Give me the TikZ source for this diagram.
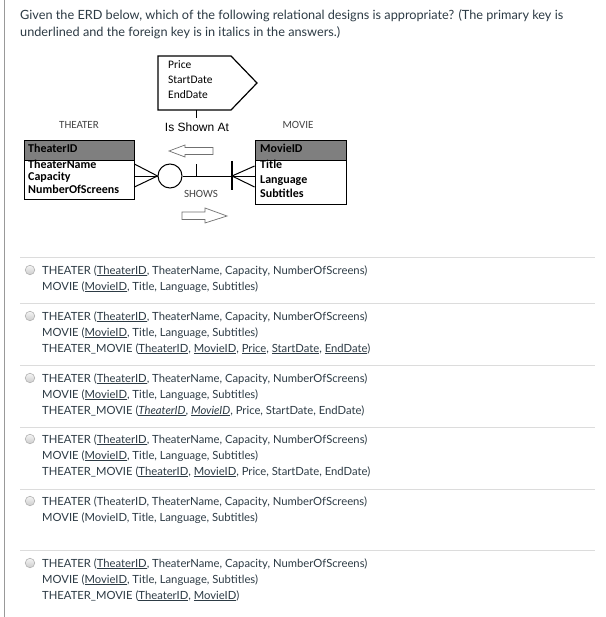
\documentclass[tikz,border=0pt]{standalone}
\usepackage{fontspec}
\setmainfont{Lato}
\newfontfamily\erdfont{Carlito}
\newfontfamily\arialfont{Liberation Sans}
\newcommand\myul[1]{\leavevmode\setbox0\hbox{#1}\rlap{\vrule height -1.3pt depth 1.9pt width \wd0}\box0}
\definecolor{qtext}{HTML}{2D3B45}
\definecolor{hdrgray}{HTML}{7F7F7F}
\definecolor{sepgray}{HTML}{DCDCDC}
\definecolor{lblgray}{HTML}{444444}
\definecolor{arrgray}{HTML}{707070}
\tikzset{
  q/.style={anchor=base west, inner sep=0pt, font=\fontsize{11.25}{13}\selectfont, text=qtext},
  qh/.style={anchor=base west, inner sep=0pt, font=\fontsize{12.7}{15}\selectfont, text=qtext},
  radio/.style={circle, minimum size=9.5pt, inner sep=0pt, draw=black!30, top color=black!4, bottom color=black!20, line width=0.6pt},
  sepline/.style={draw=sepgray, line width=1pt},
  ent/.style={draw=black, line width=0.8pt, fill=white, inner sep=0pt},
  hdr/.style={draw=black, line width=0.8pt, fill=hdrgray, inner sep=0pt},
  attr/.style={anchor=base west, inner sep=0pt, font=\erdfont\bfseries\fontsize{12}{13}\selectfont, text=black},
  plain/.style={anchor=base west, inner sep=0pt, font=\erdfont\fontsize{11.5}{13}\selectfont, text=black},
  lbl/.style={anchor=base, inner sep=0pt, font=\erdfont\fontsize{11}{13}\selectfont, text=lblgray},
  erdline/.style={draw=black, line width=1pt},
  hollow/.style={draw=arrgray, line width=0.7pt, fill=white}
}
\begin{document}
\begin{tikzpicture}[x=1pt,y=-1pt]
\useasboundingbox (0,0) rectangle (605,617);
\fill[white] (0,0) rectangle (605,617);
\draw[draw=black!40, line width=1pt] (4,0) -- (4,617);

% question
\node[qh] (q1) at (20,20) {Given the ERD below, which of the following relational designs is appropriate? (The primary key is};
\node[qh] (q2) at (20,37) {underlined and the foreign key is in italics in the answers.)};

% ---------- ERD ----------
\draw[line width=1.2pt] (158,56) -- (231,56) -- (257,83) -- (231,110) -- (158,110) -- cycle;
\coordinate (pbot) at (196,110);
\node[plain] (pr) at (168,69) {Price};
\node[plain] (sd) at (168,84) {StartDate};
\node[plain] (ed) at (168,99) {EndDate};
\node[anchor=base, inner sep=0pt, font=\arialfont\fontsize{12}{14}\selectfont] (isa) at (197,132) {Is Shown At};
\draw[erdline, line width=0.8pt] (pbot) -- ++(0,8);

\node[lbl] (thl) at (79,129) {THEATER};
\node[lbl] (mvl) at (298,129) {MOVIE};
\node[lbl] (shw) at (201,198) {SHOWS};

\node[ent, minimum width=110pt, minimum height=59pt] (th) at (79,169.5) {};
\node[hdr, minimum width=110pt, minimum height=20pt, anchor=north] (thh) at (th.north) {};
\node[attr] (t1) at (28,153) {TheaterID};
\node[attr] (t2) at (28,169) {TheaterName};
\node[attr] (t3) at (28,181) {Capacity};
\node[attr] (t4) at (28,194) {NumberOfScreens};

\node[ent, minimum width=91pt, minimum height=64pt] (mv) at (300.5,172) {};
\node[hdr, minimum width=91pt, minimum height=20pt, anchor=north] (mvh) at (mv.north) {};
\node[attr] (m1) at (260,153) {MovieID};
\node[attr] (m2) at (260,169) {Title};
\node[attr] (m3) at (260,184) {Language};
\node[attr] (m4) at (260,198) {Subtitles};

\node[circle, draw=black, line width=1pt, minimum size=24pt, inner sep=0pt] (rel) at (170,176) {};
\coordinate (tfa) at (th.east |- 0,164);
\coordinate (tfb) at (th.east |- 0,176);
\coordinate (tfc) at (th.east |- 0,187);
\draw[erdline] (tfa) -- (rel.west) -- (tfc);
\draw[erdline, line width=0.7pt] (tfb) -- (rel.west);
\coordinate (bar) at (232,176);
\coordinate (mfa) at (mv.west |- 0,166);
\coordinate (mfb) at (mv.west |- 0,176);
\coordinate (mfc) at (mv.west |- 0,187);
\draw[erdline, line width=0.8pt] (rel.east) -- (mfb);
\draw[erdline, line width=1.2pt] (232,161) -- (232,190);
\draw[erdline] (mfa) -- (bar) -- (mfc);
\coordinate (tick) at (196,176);
\draw[erdline, line width=0.8pt] (tick) -- ++(0,-12);

\draw[hollow] (213,147.5) -- (185,147.5) -- (185,145) -- (169,151) -- (185,157) -- (185,154.5) -- (213,154.5) -- cycle;
\draw[hollow] (182,212) -- (205,212) -- (205,208) -- (227,216) -- (205,223) -- (205,219.5) -- (182,219.5) -- cycle;

% ---------- options ----------
\foreach \yy in {257,303,365,427,489,550} \draw[sepline] (20,\yy) -- (595,\yy);

\node[radio] (r1) at (30,270) {};
\node[q] (o1a) at (42,274) {THEATER (\myul{TheaterID}, TheaterName, Capacity, NumberOfScreens)};
\node[q] (o1b) at (42,290) {MOVIE (\myul{MovieID}, Title, Language, Subtitles)};

\node[radio] (r2) at (30,316) {};
\node[q] (o2a) at (42,320) {THEATER (\myul{TheaterID}, TheaterName, Capacity, NumberOfScreens)};
\node[q] (o2b) at (42,336) {MOVIE (\myul{MovieID}, Title, Language, Subtitles)};
\node[q] (o2c) at (42,352) {THEATER\_MOVIE (\myul{TheaterID}, \myul{MovieID}, \myul{Price}, \myul{StartDate}, \myul{EndDate})};

\node[radio] (r3) at (30,378) {};
\node[q] (o3a) at (42,382) {THEATER (\myul{TheaterID}, TheaterName, Capacity, NumberOfScreens)};
\node[q] (o3b) at (42,398) {MOVIE (\myul{MovieID}, Title, Language, Subtitles)};
\node[q] (o3c) at (42,414) {THEATER\_MOVIE (\myul{\textit{TheaterID}}, \myul{\textit{MovieID}}, Price, StartDate, EndDate)};

\node[radio] (r4) at (30,439) {};
\node[q] (o4a) at (42,443) {THEATER (\myul{TheaterID}, TheaterName, Capacity, NumberOfScreens)};
\node[q] (o4b) at (42,459) {MOVIE (\myul{MovieID}, Title, Language, Subtitles)};
\node[q] (o4c) at (42,475) {THEATER\_MOVIE (\myul{TheaterID}, \myul{MovieID}, Price, StartDate, EndDate)};

\node[radio] (r5) at (30,501) {};
\node[q] (o5a) at (42,505) {THEATER (TheaterID, TheaterName, Capacity, NumberOfScreens)};
\node[q] (o5b) at (42,521) {MOVIE (MovieID, Title, Language, Subtitles)};

\node[radio] (r6) at (30,563) {};
\node[q] (o6a) at (42,567) {THEATER (\myul{TheaterID}, TheaterName, Capacity, NumberOfScreens)};
\node[q] (o6b) at (42,583) {MOVIE (\myul{MovieID}, Title, Language, Subtitles)};
\node[q] (o6c) at (42,599) {THEATER\_MOVIE (\myul{TheaterID}, \myul{MovieID})};
\end{tikzpicture}
\end{document}
